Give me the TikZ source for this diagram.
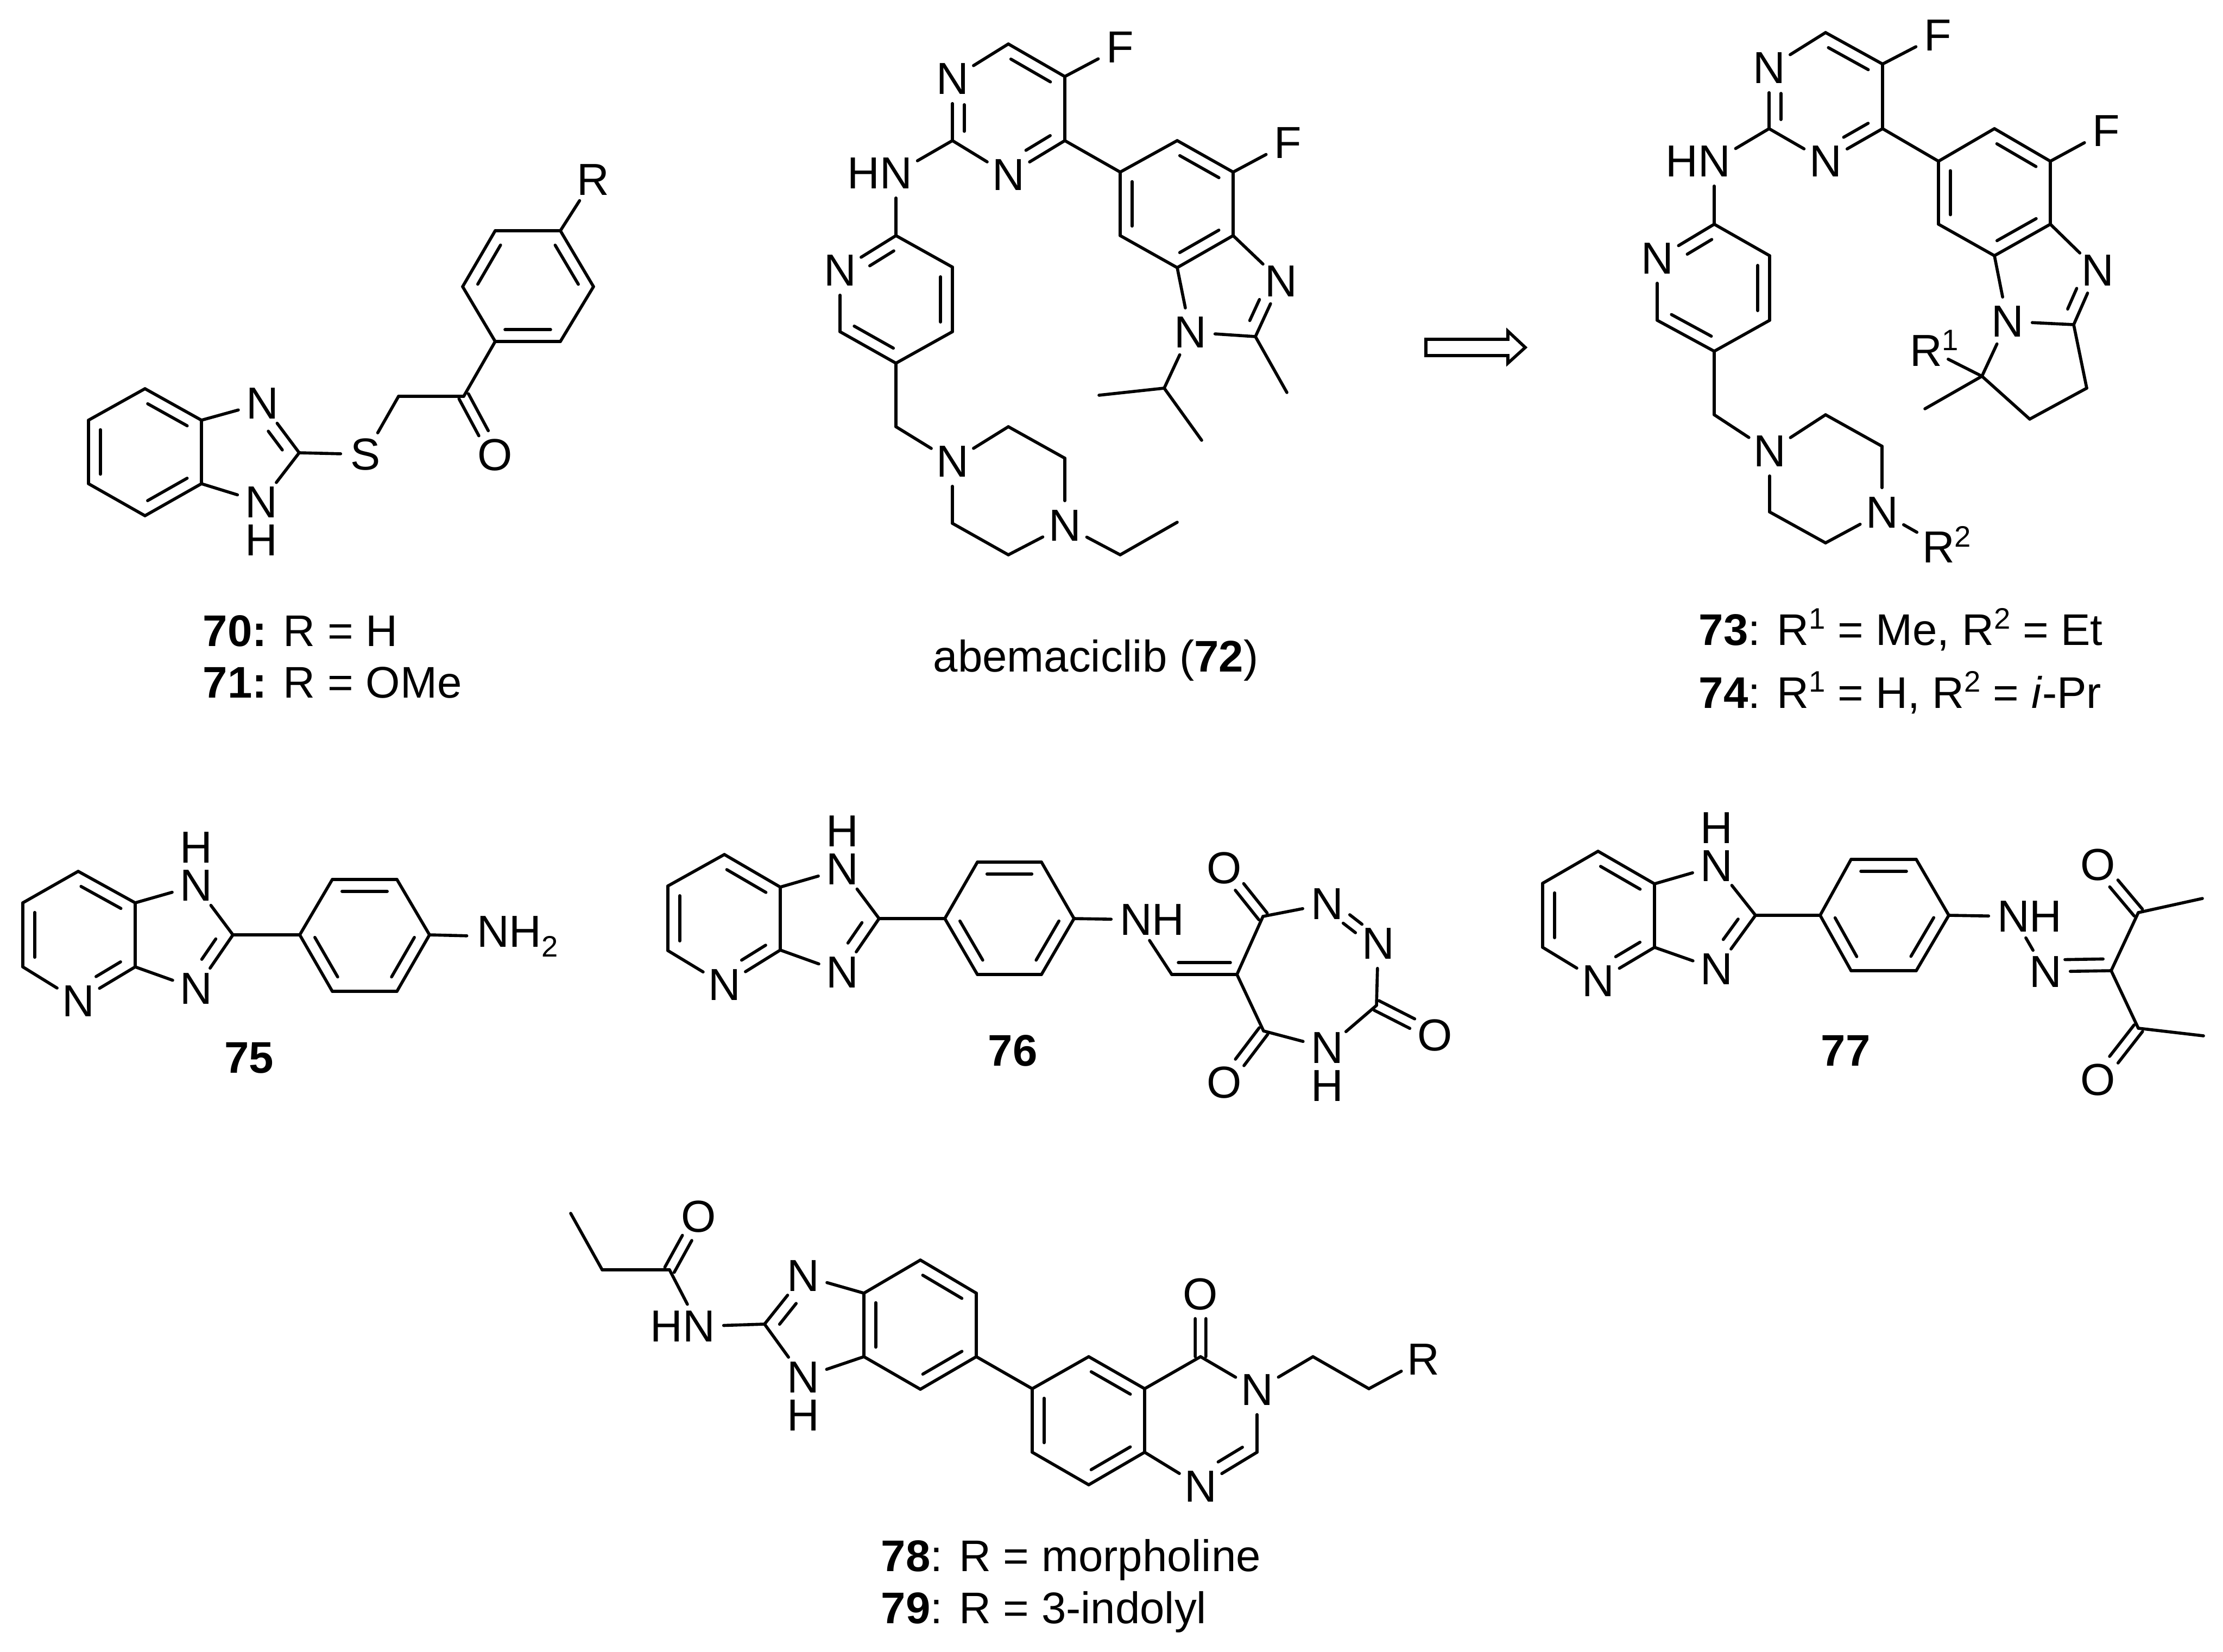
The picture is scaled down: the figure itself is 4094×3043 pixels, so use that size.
\documentclass[tikz,border=0pt]{standalone}
\usepackage{fontspec}
\setmainfont{Liberation Sans}
\usetikzlibrary{calc}

\tikzset{
  bond/.style = {line width = 1.6pt, line cap = round},
  atom/.style = {circle, inner sep = 0pt, minimum size = 0.9cm, font = \fontsize{23.5}{28}\selectfont},
  caption/.style = {inner sep = 0pt, font = \fontsize{23.2}{28}\selectfont}
}

\newcommand{\inbond}[4]{
  \draw[bond] ($(#1)!#3!(#2)!6.2pt!-90:(#2)$) -- ($(#2)!#4!(#1)!6.2pt!90:(#1)$);
}
\newcommand{\twinbond}[4]{
  \draw[bond] ($(#1)!#3!(#2)!2.8pt!90:(#2)$) -- ($(#2)!#4!(#1)!2.8pt!-90:(#1)$);
  \draw[bond] ($(#1)!#3!(#2)!2.8pt!-90:(#2)$) -- ($(#2)!#4!(#1)!2.8pt!90:(#1)$);
}
\newcommand{\hatop}[1]{\smash{\rlap{\raisebox{19.8pt}{H}}}#1}
\newcommand{\hbelow}[1]{\smash{\rlap{\raisebox{-19.8pt}{H}}}#1}
\newcommand{\sups}[1]{\raisebox{8.3pt}{\fontsize{15.5}{16}\selectfont #1}}
\newcommand{\subs}[1]{\raisebox{-5pt}{\fontsize{15.5}{16}\selectfont #1}}

\begin{document}
\begin{tikzpicture}[x = 0.01cm, y = -0.01cm]
  \useasboundingbox (0, 0) rectangle (4094, 3043);

  \foreach \n/\x/\y in {
    a1/267/716, a2/371/774, a3/371/891, a4/267/950, a5/163/891, a6/163/774,
    a8/551/834, a11/734/730, a12/854/730, a14/912/629, a15/1032/629,
    a16/1093/528, a17/1032/425, a18/912/425, a19/852/528,
    b2/1857/81, b3/1961/141, b5/1961/259, b7/1754/259, b10/1650/434,
    b12/1547/611, b13/1650/669, b14/1754/611, b15/1754/492, b16/1650/786,
    b18/1857/786, b19/1961/844, b21/1857/1022, b22/1754/964, b23/2063/1022,
    b24/2168/962, b25/2063/317, b26/2168/259, b27/2271/317, b29/2271/434,
    b30/2168/493, b31/2063/434, b33/2312/620, b35/2370/723, b36/2144/715,
    b37/2024/728, b38/2213/811,
    c2/3362/60, c3/3467/118, c5/3467/237, c7/3258/237, c10/3157/413,
    c12/3052/590, c13/3157/647, c14/3259/590, c15/3259/471, c16/3157/764,
    c18/3362/764, c19/3466/822, c21/3362/1000, c22/3259/943, c25/3570/297,
    c26/3673/237, c27/3776/297, c29/3776/413, c30/3673/471, c31/3570/413,
    c33/3819/598, c36/3650/693, c37/3545/753, c38/3738/772, c39/3843/715,
    d1/144/1605, d2/249/1663, d3/249/1781, d5/42/1781, d6/42/1663, d8/429/1722,
    d10/552/1722, d11/612/1620, d12/731/1620, d13/791/1722, d14/731/1826,
    d15/612/1826,
    e1/1334/1574, e2/1437/1634, e3/1437/1750, e5/1230/1751, e6/1230/1632,
    e8/1619/1692, e10/1740/1692, e11/1800/1588, e12/1918/1588, e13/1978/1692,
    e14/1918/1795, e15/1800/1795, e17/2158/1795, e18/2278/1795, e19/2326/1688,
    e22/2535/1852, e24/2327/1899,
    f1/2943/1568, f2/3047/1628, f3/3047/1745, f5/2841/1745, f6/2841/1627,
    f8/3233/1686, f10/3352/1686, f11/3409/1583, f12/3529/1583, f13/3589/1686,
    f14/3529/1788, f15/3409/1788, f18/3888/1788, f19/3938/1681, f21/4056/1655,
    f22/3938/1894, f24/4058/1908,
    g1/1051/2235, g2/1109/2339, g3/1233/2339, g6/1408/2439, g9/1591/2382,
    g10/1695/2321, g11/1798/2382, g12/1798/2499, g13/1695/2559, g14/1591/2499,
    g15/1901/2558, g16/2005/2499, g17/2108/2558, g18/2211/2499, g21/2315/2675,
    g23/2108/2675, g24/2005/2735, g25/1901/2675, g26/2418/2499, g27/2521/2558}
    \coordinate (\n) at (\x, \y);

  \foreach \n/\x/\y/\t in {
    a7/483/743/N, a9/481/925/\hbelow{N}, a10/673/837/S, a13/912/838/O,
    a20/1092/331/R,
    b1/1754/145/N, b4/2063/87/F, b6/1857/322/N, b8/1650/319/\llap{H}N,
    b11/1547/498/N, b17/1754/850/N, b20/1961/968/N, b28/2372/263/F,
    b32/2359/518/N, b34/2192/612/N,
    c1/3258/125/N, c4/3569/65/F, c6/3362/297/N, c8/3157/297/\llap{H}N,
    c11/3052/476/N, c17/3259/831/N, c20/3466/944/N,
    c23/3570/1003/R\rlap{\sups{2}}, c28/3879/241/F, c32/3863/498/N,
    c34/3697/592/N, c35/3547/641/R\rlap{\sups{1}},
    d4/144/1844/N, d7/361/1631/\hatop{N}, d9/361/1821/N,
    d16/908/1725/N\rlap{H\subs{2}},
    e4/1334/1814/N, e7/1551/1601/\hatop{N}, e9/1551/1791/N,
    e16/2092/1694/N\rlap{H}, e20/2255/1599/O, e21/2444/1665/N, e23/2538/1738/N,
    e25/2643/1907/O, e26/2444/1930/\hbelow{N}, e27/2255/1994/O,
    f4/2943/1807/N, f7/3161/1595/\hatop{N}, f9/3161/1785/N,
    f16/3708/1688/N\rlap{H}, f17/3767/1790/N, f20/3864/1593/O, f23/3864/1989/O,
    g4/1287/2241/O, g5/1287/2443/\llap{H}N, g7/1479/2350/N, g8/1479/2537/\hbelow{N},
    g19/2211/2384/O, g20/2315/2560/N, g22/2211/2738/N,
    g28/2621/2504/R}
    \node[atom] (\n) at (\x, \y) {\t};

  \foreach \p/\q in {
    a1/a2, a2/a3, a3/a4, a4/a5, a5/a6, a6/a1, a2/a7, a7/a8, a8/a9, a9/a3,
    a8/a10, a10/a11, a11/a12, a12/a14, a14/a15, a15/a16, a16/a17, a17/a18,
    a18/a19, a19/a14, a17/a20,
    b1/b2, b2/b3, b3/b5, b5/b6, b6/b7, b7/b1, b3/b4, b7/b8, b8/b10, b10/b11,
    b11/b12, b12/b13, b13/b14, b14/b15, b15/b10, b13/b16, b16/b17, b17/b18,
    b18/b19, b19/b20, b20/b21, b21/b22, b22/b17, b20/b23, b23/b24, b5/b25,
    b25/b26, b26/b27, b27/b29, b29/b30, b30/b31, b31/b25, b27/b28, b29/b32,
    b32/b33, b33/b34, b34/b30, b33/b35, b34/b36, b36/b37, b36/b38,
    c1/c2, c2/c3, c3/c5, c5/c6, c6/c7, c7/c1, c3/c4, c7/c8, c8/c10, c10/c11,
    c11/c12, c12/c13, c13/c14, c14/c15, c15/c10, c13/c16, c16/c17, c17/c18,
    c18/c19, c19/c20, c20/c21, c21/c22, c22/c17, c20/c23, c5/c25, c25/c26,
    c26/c27, c27/c29, c29/c30, c30/c31, c31/c25, c27/c28, c29/c32, c32/c33,
    c33/c34, c34/c30, c34/c36, c36/c35, c36/c37, c36/c38, c38/c39, c39/c33,
    d1/d2, d2/d3, d3/d4, d4/d5, d5/d6, d6/d1, d2/d7, d7/d8, d8/d9, d9/d3,
    d8/d10, d10/d11, d11/d12, d12/d13, d13/d14, d14/d15, d15/d10, d13/d16,
    e1/e2, e2/e3, e3/e4, e4/e5, e5/e6, e6/e1, e2/e7, e7/e8, e8/e9, e9/e3,
    e8/e10, e10/e11, e11/e12, e12/e13, e13/e14, e14/e15, e15/e10, e13/e16,
    e16/e17, e17/e18, e18/e19, e19/e21, e23/e22, e22/e26, e26/e24, e24/e18,
    f1/f2, f2/f3, f3/f4, f4/f5, f5/f6, f6/f1, f2/f7, f7/f8, f8/f9, f9/f3,
    f8/f10, f10/f11, f11/f12, f12/f13, f13/f14, f14/f15, f15/f10, f13/f16,
    f16/f17, f17/f18, f18/f19, f19/f21, f18/f22, f22/f24,
    g1/g2, g2/g3, g3/g5, g5/g6, g6/g7, g7/g9, g9/g14, g14/g8, g8/g6, g9/g10,
    g10/g11, g11/g12, g12/g13, g13/g14, g12/g15, g15/g16, g16/g17, g17/g23,
    g23/g24, g24/g25, g25/g15, g17/g18, g18/g20, g20/g21, g21/g22, g22/g23,
    g20/g26, g26/g27, g27/g28}
    \draw[bond] (\p) -- (\q);

  \foreach \p/\q/\a/\b in {
    a1/a2/0.15/0.15, a3/a4/0.15/0.15, a5/a6/0.15/0.15, a7/a8/0.42/0.2,
    a19/a18/0.15/0.15, a17/a16/0.15/0.15, a15/a14/0.15/0.15,
    b2/b3/0.15/0.15, b5/b6/0.15/0.42, b7/b1/0.15/0.42,
    b15/b14/0.15/0.15, b13/b12/0.15/0.15, b11/b10/0.42/0.15,
    b26/b27/0.15/0.15, b29/b30/0.15/0.15, b31/b25/0.15/0.15, b32/b33/0.42/0.2,
    c2/c3/0.15/0.15, c5/c6/0.15/0.42, c7/c1/0.15/0.42,
    c15/c14/0.15/0.15, c13/c12/0.15/0.15, c11/c10/0.42/0.15,
    c26/c27/0.15/0.15, c29/c30/0.15/0.15, c31/c25/0.15/0.15, c32/c33/0.42/0.2,
    d1/d2/0.15/0.15, d3/d4/0.15/0.42, d5/d6/0.15/0.15, d8/d9/0.2/0.42,
    d11/d12/0.15/0.15, d13/d14/0.15/0.15, d15/d10/0.15/0.15,
    e1/e2/0.15/0.15, e3/e4/0.15/0.42, e5/e6/0.15/0.15, e8/e9/0.2/0.42,
    e11/e12/0.15/0.15, e13/e14/0.15/0.15, e15/e10/0.15/0.15, e18/e17/0.1/0.1,
    f1/f2/0.15/0.15, f3/f4/0.15/0.42, f5/f6/0.15/0.15, f8/f9/0.2/0.42,
    f11/f12/0.15/0.15, f13/f14/0.15/0.15, f15/f10/0.15/0.15, f18/f17/0.12/0.3,
    g6/g7/0.15/0.42, g10/g11/0.15/0.15, g12/g13/0.15/0.15, g14/g9/0.15/0.15,
    g16/g17/0.15/0.15, g23/g24/0.15/0.15, g25/g15/0.15/0.15, g21/g22/0.15/0.42}
    {\inbond{\p}{\q}{\a}{\b}}

  \foreach \p/\q/\a/\b in {
    a12/a13/0/0.37, e19/e20/0/0.39, e24/e27/0/0.39, e22/e25/0/0.39,
    e21/e23/0.38/0.38, f19/f20/0/0.39, f22/f23/0/0.39, g3/g4/0/0.4,
    g18/g19/0/0.39}
    {\twinbond{\p}{\q}{\a}{\b}}

  \draw[bond, line join = miter]
    (2626, 625) -- (2777, 625) -- (2777, 610) -- (2809, 640)
    -- (2777, 669) -- (2777, 655) -- (2626, 655) -- cycle;

  \node[caption, anchor = base west] (l70) at (373, 1190) {\textbf{70:} R = H};
  \node[caption, anchor = base west] (l71) at (373, 1285) {\textbf{71:} R = OMe};
  \node[caption, anchor = base] (l72) at (2018, 1237) {abemaciclib (\textbf{72})};
  \node[caption, anchor = base west] (l73) at (3128, 1188)
    {\textbf{73}: R\sups{1} = Me, R\sups{2} = Et};
  \node[caption, anchor = base west] (l74) at (3128, 1304)
    {\textbf{74}: R\sups{1} = H, R\sups{2} = \textit{i}-Pr};
  \node[caption, anchor = base] (l75) at (459, 1976) {\textbf{75}};
  \node[caption, anchor = base] (l76) at (1865, 1963) {\textbf{76}};
  \node[caption, anchor = base] (l77) at (3399, 1963) {\textbf{77}};
  \node[caption, anchor = base west] (l78) at (1622, 2894) {\textbf{78}: R = morpholine};
  \node[caption, anchor = base west] (l79) at (1622, 2990) {\textbf{79}: R = 3-indolyl};
\end{tikzpicture}
\end{document}
